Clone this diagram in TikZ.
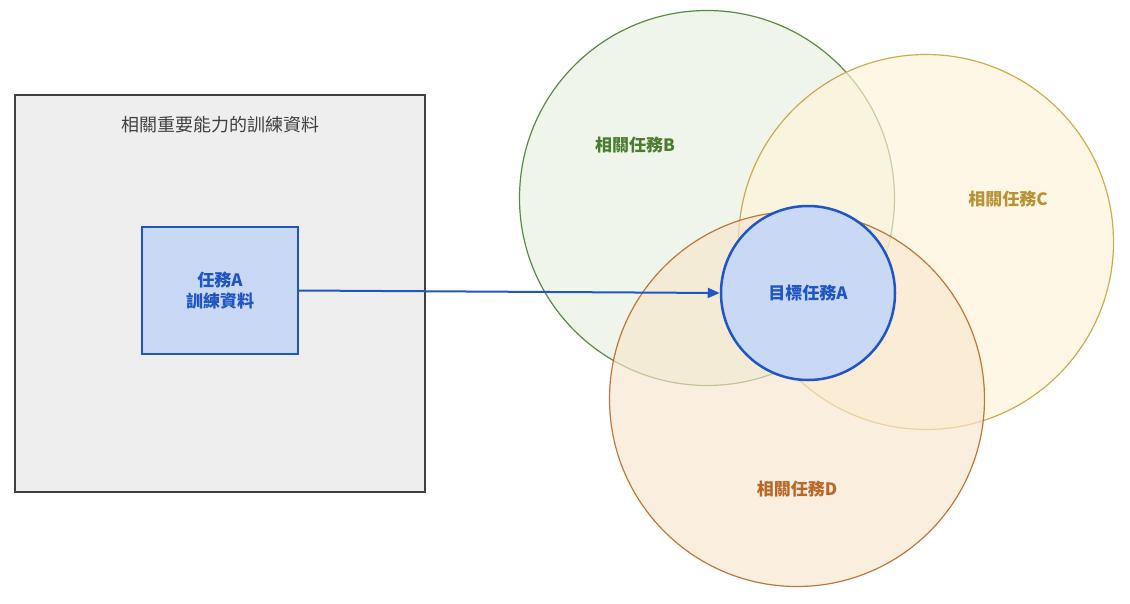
\documentclass[tikz,border=0pt]{standalone}
\usepackage{fontspec}
\newfontfamily\cjk{Noto Sans CJK TC}
\usetikzlibrary{arrows.meta}
\definecolor{blueD}{HTML}{1F56C4}
\definecolor{blueL}{HTML}{C9D9F5}
\definecolor{greenD}{HTML}{4A7D2F}
\definecolor{greenL}{HTML}{E6F0DF}
\definecolor{goldD}{HTML}{C9A23A}
\definecolor{goldL}{HTML}{FFF3D9}
\definecolor{oranD}{HTML}{B8682A}
\definecolor{oranL}{HTML}{F8E6CC}
\tikzset{
 lbl/.style={font=\cjk\fontsize{17}{21}\selectfont\bfseries, align=center},
 circ/.style={circle, fill opacity=0.65, draw opacity=0.9, line width=1.2pt}
}
\begin{document}
\begin{tikzpicture}[x=1pt,y=-1pt]
\useasboundingbox (0,0) rectangle (1130,603);
\node[draw=black!75, fill=black!6.5, line width=2pt, minimum width=410pt, minimum height=397pt, inner sep=0] (big) at (220,293.5) {};
\node[lbl, font=\cjk\fontsize{18}{22}\selectfont, text=black!75] (title) at (220,125) {相關重要能力的訓練資料};
\node[draw=blueD, fill=blueL, line width=2pt, minimum width=156pt, minimum height=127pt, inner sep=0, lbl, text=blueD] (ta) at (220,290.5) {任務A\\訓練資料};
\node[circ, draw=greenD, fill=greenL, minimum size=375pt] (cb) at (707,198) {};
\node[circ, draw=goldD, fill=goldL, minimum size=375pt] (cc) at (926,242) {};
\node[circ, draw=oranD, fill=oranL, minimum size=375pt] (cd) at (797,399) {};
\node[circle, draw=blueD, fill=blueL, line width=2.5pt, minimum size=174pt, lbl, text=blueD] (tg) at (808,293) {目標任務A};
\node[lbl, text=greenD] (lb) at (635,145) {相關任務B};
\node[lbl, text=goldD!90!black] (lc) at (1008,199) {相關任務C};
\node[lbl, text=oranD] (ld) at (797,489) {相關任務D};
\draw[blueD, line width=2pt, -{Triangle[length=12pt,width=10pt]}] (ta.east) -- (tg.west);
\end{tikzpicture}
\end{document}
